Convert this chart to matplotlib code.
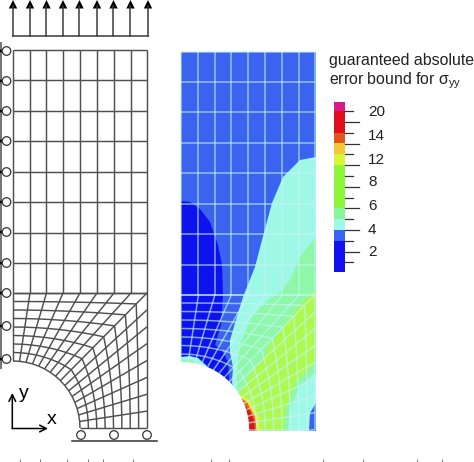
import numpy as np
import matplotlib
matplotlib.use("Agg")
import matplotlib.pyplot as plt
from matplotlib.patches import Circle, Polygon, Rectangle, Wedge

plt.rcParams["font.family"] = ["Liberation Sans", "DejaVu Sans"]
plt.rcParams["mathtext.fontset"] = "custom"
plt.rcParams["mathtext.rm"] = "Liberation Sans"
plt.rcParams["mathtext.it"] = "Liberation Sans"

# Siatka (wspolrzedne w pikselach obrazka)
mesh_x = [13, 30, 46.5, 63, 80, 97, 114, 131, 147]
mesh_y = [50, 80, 110.5, 141, 171.5, 202, 232.5, 263, 293]
hole_r = 67
hole_y = 428
n_layers = 8
arrow_x = [13, 30, 46.5, 63, 79.5, 97, 113.5, 130.5, 148]
left_rollers_y = [51, 81, 111, 141, 172, 202, 232, 263, 293, 326, 359]
bottom_rollers_x = [81, 114, 147]
cut_marks_x = [20, 40, 67, 88, 103, 133, 211, 229, 323, 363, 417, 442]

# Obszary na mapie bledu (kolejno od spodu)
blue = "#3a63ef"
dark_blue = "#0d12ee"
cyan = "#9ef8e6"
light_green = "#8ff7a8"
bright_green = "#aef94e"
yellow = "#e4f23a"
orange = "#e8641e"
red = "#d8141c"

cyan_area = [(316, 157), (300, 160), (283, 177), (272, 203), (262, 240), (255, 267), (243, 297),
             (235, 323), (230, 340), (230, 353), (233, 367), (232, 382), (240, 431), (316, 431)]
dark_area = [(181, 201), (190, 202), (200, 209), (210, 222), (218, 245), (222, 265), (223, 295),
             (221, 325), (215, 345), (222, 350), (228, 362), (229, 380), (215, 410), (181, 410)]
light_area = [(316, 237), (300, 257), (290, 280), (282, 290), (262, 305), (250, 320), (240, 345),
              (237, 370), (238, 431), (288, 431), (290, 410), (300, 385), (316, 372)]
bright_area = [(316, 290), (300, 305), (285, 325), (270, 345), (262, 360), (250, 375), (240, 393),
               (240, 431), (284, 431), (286, 408), (296, 382), (316, 362)]
lower_cyan = [(316, 388), (307, 398), (301, 413), (300, 431), (316, 431)]
lower_blue = [(316, 403), (310, 413), (309, 431), (316, 431)]
strip_cyan = [(181, 357), (190, 356), (198, 358), (207, 366), (200, 375), (181, 375)]
strip_green = [(181, 361), (190, 360), (197, 363), (197, 375), (181, 375)]
yellow_area = [(238, 393), (250, 401), (259, 417), (260, 431), (240, 431)]
orange_area = [(238, 396), (247, 402), (255, 417), (257, 431), (240, 431)]
red_area = [(240, 403), (249, 409), (254, 420), (255, 431), (240, 431)]
regions = [(cyan_area, cyan), (dark_area, dark_blue), (light_area, light_green), (bright_area, bright_green),
           (lower_cyan, cyan), (lower_blue, blue), (strip_cyan, cyan), (strip_green, light_green),
           (yellow_area, yellow), (orange_area, orange), (red_area, red)]

# Skala kolorow
bar_colors = ["#1010f0", "#3a63ef", "#a0f8e8", "#88f59a", "#8df53a",
              "#d8f53a", "#f5c838", "#e0561f", "#e0101e", "#d81b8a"]
bar_edges = [271.7, 240.7, 230, 219, 208.3, 165, 154.3, 143.3, 132.7, 111, 101.7]
tick_labels = ["20", "14", "12", "8", "6", "4", "2"]
tick_label_y = [112.5, 136.5, 159.5, 182.5, 205.5, 229.5, 252.5]
long_ticks_y = [121.7, 143.5, 165, 186.7, 208.3, 230, 251.7]
short_ticks_y = [111, 132.7, 154.3, 176, 197.5, 219.3, 240.7, 262.3]


def mesh_lines():
    """Zwraca linie siatki: gorna czesc prostokatna i dolna wokol otworu."""
    lines = []
    for x in mesh_x:
        lines.append(([x, x], [mesh_y[0], mesh_y[-1]]))
    for y in mesh_y:
        lines.append(([mesh_x[0], mesh_x[-1]], [y, y]))

    # obwod zewnetrzny dolnej czesci i odpowiadajace mu katy na otworze
    outer = [(x, mesh_y[-1]) for x in mesh_x]
    step = (hole_y - mesh_y[-1]) / 8
    outer += [(mesh_x[-1], mesh_y[-1] + i * step) for i in range(1, 9)]
    angles = np.radians(np.linspace(90, 0, len(outer)))
    inner = [(mesh_x[0] + hole_r * np.cos(a), hole_y - hole_r * np.sin(a)) for a in angles]
    outer = np.array(outer)
    inner = np.array(inner)
    for i in range(len(outer)):
        lines.append(([inner[i, 0], outer[i, 0]], [inner[i, 1], outer[i, 1]]))
    for k in range(n_layers + 1):
        pts = inner + (outer - inner) * k / n_layers
        lines.append((pts[:, 0], pts[:, 1]))
    return lines


fig = plt.figure(figsize=(4.74, 4.62), dpi=100)
ax = fig.add_axes([0, 0, 1, 1])
ax.set_xlim(0, 474)
ax.set_ylim(462, 0)
ax.axis("off")

# Lewa siatka
for xs, ys in mesh_lines():
    ax.plot(xs, ys, color="#505050", lw=1.05, solid_capstyle="butt", zorder=2)

# Strzalki obciazenia
ax.plot([arrow_x[0], arrow_x[-1]], [35.5, 35.5], color="#3a3a3a", lw=1.1)
for x in arrow_x:
    ax.plot([x, x], [35.5, 6], color="#3a3a3a", lw=1.1)
    ax.add_patch(Polygon([(x - 4.2, 8.5), (x + 4.2, 8.5), (x, 0)], color="black", lw=0))

# Podpory
ax.add_patch(Rectangle((0, 42), 1.6, 327, color="#777777", lw=0))
for y in left_rollers_y:
    ax.add_patch(Circle((6.5, y), 4.3, fc="white", ec="#333333", lw=0.9, zorder=3))
    ax.add_patch(Circle((0.5, y), 1.4, color="black", lw=0, zorder=3))
for x in bottom_rollers_x:
    ax.add_patch(Circle((x, 435), 4.3, fc="white", ec="#333333", lw=0.9, zorder=3))
ax.plot([72, 157], [440.5, 440.5], color="#333333", lw=1.1)

# Uklad wspolrzednych
ax.annotate("", xy=(12.3, 393), xytext=(12.3, 428.5),
            arrowprops=dict(arrowstyle="->", color="black", lw=1.1, shrinkA=0, shrinkB=0, mutation_scale=12))
ax.annotate("", xy=(48, 428.5), xytext=(12, 428.5),
            arrowprops=dict(arrowstyle="->", color="black", lw=1.1, shrinkA=0, shrinkB=0, mutation_scale=12))
ax.text(24, 394, "y", fontsize=14, ha="center", va="center")
ax.text(52, 419, "x", fontsize=14, ha="center", va="center")

# Mapa bledu
dx, dy = 168.5, 1.5
ax.add_patch(Rectangle((181.5, 51.5), 135, 379, color=blue, lw=0, zorder=1))
for pts, col in regions:
    ax.add_patch(Polygon(pts, color=col, lw=0, zorder=1))
for xs, ys in mesh_lines():
    ax.plot(np.asarray(xs) + dx, np.asarray(ys) + dy, color="#c4f4f6", lw=1.1, alpha=0.65,
            solid_capstyle="butt", zorder=1.5)
# os y jest odwrocona, wiec cwiartka nad srodkiem ma katy -90..0
ax.add_patch(Wedge((181.5, 429.5), 67.5, -90, 0, color="white", lw=0, zorder=1.7))
ax.add_patch(Rectangle((170, 428.5), 79, 10, color="white", lw=0, zorder=1.7))
ax.add_patch(Rectangle((249, 430.5), 76, 8, color="white", lw=0, zorder=1.7))
ax.add_patch(Rectangle((170, 362), 13, 73, color="white", lw=0, zorder=1.7))

# Legenda
for low, high, col in zip(bar_edges[:-1], bar_edges[1:], bar_colors):
    ax.add_patch(Rectangle((334, high), 11.5, low - high, color=col, lw=0))
for y in long_ticks_y:
    ax.plot([345.5, 359.5], [y, y], color="#333333", lw=0.9)
for y in short_ticks_y:
    ax.plot([345.5, 353], [y, y], color="#333333", lw=0.9)
for y, label in zip(tick_label_y, tick_labels):
    ax.text(368, y, label, fontsize=11, color="#222222", ha="left", va="center")
ax.text(329, 61, "guaranteed absolute", fontsize=11.4, color="#222222", ha="left", va="center")
ax.text(329, 81, "error bound for $\\sigma_{yy}$", fontsize=11.4, color="#222222", ha="left", va="center")

# Resztki tekstu przy dolnej krawedzi
ax.plot(cut_marks_x, [460.5] * len(cut_marks_x), ls="none", marker="|", ms=2.5, color="#777777", mew=0.7)

fig.savefig("out.png", dpi=100)
